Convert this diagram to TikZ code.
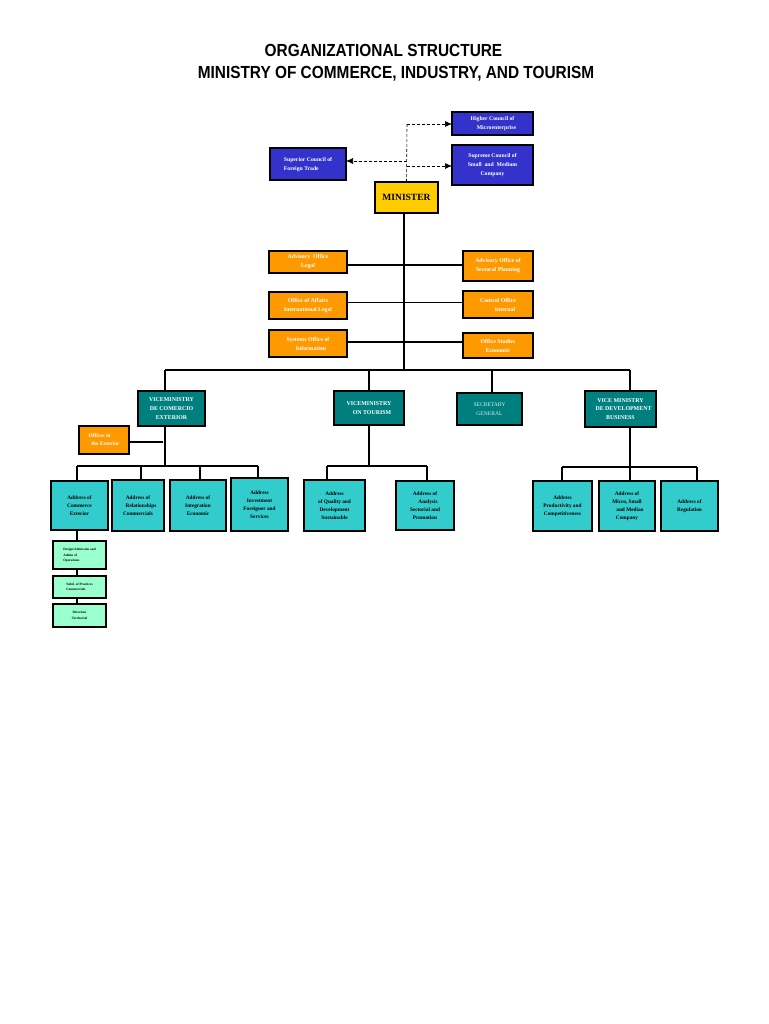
\documentclass[tikz,border=0pt]{standalone}
\usepackage{fontspec}
\usepackage{graphicx}
\setmainfont{Liberation Serif}
\newfontfamily\titlefont{Liberation Sans}
\usetikzlibrary{arrows.meta}
\definecolor{cblue}{HTML}{3333CC}
\definecolor{corange}{HTML}{FF9900}
\definecolor{cyellow}{HTML}{FFCC00}
\definecolor{cteal}{HTML}{007F7F}
\definecolor{ccyan}{HTML}{33CCCC}
\definecolor{cgreen}{HTML}{99FFCC}
\tikzset{
  bx/.style={draw=black, line width=1.4pt, inner sep=0pt, outer sep=0pt, align=center,
    font=\fontsize{5.8}{9}\selectfont\bfseries},
  bluebox/.style={bx, fill=cblue, text=white, font=\fontsize{5.7}{9}\selectfont\bfseries},
  orbox/.style={bx, fill=corange, text=white},
  tealbox/.style={bx, fill=cteal, text=white, font=\fontsize{5.9}{8.8}\selectfont\bfseries},
  cyanbox/.style={bx, fill=ccyan, text=black, font=\fontsize{5.3}{8}\selectfont\bfseries},
  grbox/.style={bx, fill=cgreen, text=black, font=\fontsize{3.4}{5.5}\selectfont\bfseries},
  minbox/.style={bx, fill=cyellow, text=black, line width=1.8pt, font=\fontsize{9.5}{11}\selectfont\bfseries},
  tree/.style={draw=black, line width=1.1pt},
  dasharrow/.style={draw=black, line width=0.6pt, densely dashed, -{Latex[length=7pt,width=6pt]}},
  dashline/.style={draw=black, line width=0.6pt, densely dashed},
  ttl/.style={font=\titlefont\fontsize{17.5}{20}\selectfont\bfseries}
}
\begin{document}
\begin{tikzpicture}[x=1pt,y=-1pt]
\useasboundingbox (0,0) rectangle (768,1024);
% title
\node[ttl] (t1) at (383.5,50) {\scalebox{0.88}[1]{ORGANIZATIONAL STRUCTURE}};
\node[ttl] (t2) at (396,74) {\scalebox{0.88}[1]{MINISTRY OF COMMERCE, INDUSTRY, AND TOURISM}};
% councils
\node[bluebox, minimum width=81pt, minimum height=23pt] (hcm) at (492.5,123.5) {Higher Council of\\\hspace*{8pt}Microenterprise};
\node[bluebox, minimum width=81pt, minimum height=40pt] (scm) at (492.5,165) {Supreme Council of\\Small\ \ and\ \ Medium\\Company};
\node[bluebox, minimum width=76pt, minimum height=32pt] (sft) at (308,164) {\begin{tabular}{@{}l@{}}Superior Council of\\Foreign Trade\end{tabular}};
\node[minbox, minimum width=63pt, minimum height=31pt] (min) at (406.5,197.5) {MINISTER};
\coordinate (dtop) at (407,124);
\draw[dashline] (min.north) -- (dtop);
\draw[dasharrow] (dtop) -- (hcm.west |- dtop);
\draw[dasharrow] (407,166) -- (scm.west |- 0,166);
\draw[dasharrow] (407,161) -- (sft.east |- 0,161);
% offices
\node[orbox, minimum width=78pt, minimum height=22pt] (aol) at (308,262) {Advisory\ \ Office\\Legal};
\node[orbox, minimum width=70pt, minimum height=30pt] (aosp) at (498,266) {Advisory Office of\\Sectoral Planning};
\node[orbox, minimum width=78pt, minimum height=27pt] (oail) at (308,305.5) {Office of Affairs\\International Legal};
\node[orbox, minimum width=70pt, minimum height=27pt] (coi) at (498,304.5) {Control Office\\\hspace*{14pt}Internal};
\node[orbox, minimum width=78pt, minimum height=27pt] (soi) at (308,343.5) {Systems Office of\\\hspace*{6pt}Information};
\node[orbox, minimum width=70pt, minimum height=25pt] (ose) at (498,345.5) {Office Studies\\Economic};
\draw[line width=2pt] (aol.east |- 0,265) -- (aosp.west |- 0,265);
\draw[line width=0.8pt] (oail.east |- 0,302) -- (coi.west |- 0,302);
\draw[line width=2pt] (soi.east |- 0,342) -- (ose.west |- 0,342);
% main trunk and bus
\coordinate (bus) at (404,370);
\draw[tree] (min.south -| bus) -- (bus);
\node[tealbox, minimum width=67pt, minimum height=35pt] (vmce) at (171.5,408.5) {VICEMINISTRY\\DE COMERCIO\\EXTERIOR};
\node[tealbox, minimum width=70pt, minimum height=34pt] (vmt) at (369,408) {VICEMINISTRY\\\hspace*{6pt}ON TOURISM};
\node[tealbox, minimum width=65pt, minimum height=32pt, font=\fontsize{5.6}{8.8}\selectfont, text=white!85!cteal] (sg) at (489.5,409) {SECRETARY\\GENERAL};
\node[tealbox, minimum width=71pt, minimum height=36pt] (vmd) at (620.5,409) {VICE MINISTRY\\\hspace*{6pt}DE DEVELOPMENT\\BUSINESS};
\draw[tree] (165,370) -- (630,370);
\draw[tree] (165,370) -- (vmce.north -| 165,0);
\draw[tree] (369,370) -- (vmt.north);
\draw[tree] (492,370) -- (sg.north -| 492,0);
\draw[tree] (630,370) -- (vmd.north -| 630,0);
% offices exterior
\node[orbox, minimum width=50pt, minimum height=28pt, font=\fontsize{5.4}{8.5}\selectfont\bfseries] (oe) at (104,440) {\begin{tabular}{@{}l@{}}Offices in\\\ \ the Exterior\end{tabular}};
\draw[line width=1.6pt] (oe.east |- 0,442) -- (163,442);
% comercio exterior subtree
\draw[tree] (vmce.south -| 165,0) -- (165,466);
\draw[tree] (77,466) -- (258,466);
\node[cyanbox, minimum width=57pt, minimum height=49pt] (ace) at (79.5,505.5) {Address of\\Commerce\\Exterior};
\node[cyanbox, minimum width=52pt, minimum height=51pt] (arc) at (138,505.5) {Address of\\\hspace*{6pt}Relationships\\Commercials};
\node[cyanbox, minimum width=56pt, minimum height=51pt] (aie) at (198,505.5) {Address of\\Integration\\Economic};
\node[cyanbox, minimum width=57pt, minimum height=53pt] (aifs) at (259.5,504.5) {Address\\Investment\\Foreigner and\\Services};
\draw[tree] (77,466) -- (ace.north -| 77,0);
\draw[tree] (141,466) -- (arc.north -| 141,0);
\draw[tree] (200,466) -- (aie.north -| 200,0);
\draw[tree] (258,466) -- (aifs.north -| 258,0);
% tourism subtree
\draw[tree] (vmt.south) -- (369,466);
\draw[tree] (327,466) -- (427,466);
\node[cyanbox, minimum width=61pt, minimum height=51pt] (aqds) at (334.5,505.5) {Address\\of Quality and\\Development\\Sustainable};
\node[cyanbox, minimum width=58pt, minimum height=49pt] (aasp) at (425,505.5) {Address of\\\hspace*{6pt}Analysis\\Sectorial and\\Promotion};
\draw[tree] (327,466) -- (aqds.north -| 327,0);
\draw[tree] (427,466) -- (aasp.north -| 427,0);
% development subtree
\draw[tree] (vmd.south -| 630,0) -- (630,467);
\draw[tree] (562,467) -- (697,467);
\node[cyanbox, minimum width=59pt, minimum height=50pt] (apc) at (562.5,506) {Address\\Productivity and\\Competitiveness};
\node[cyanbox, minimum width=56pt, minimum height=50pt] (amsm) at (627,506) {Address of\\Micro, Small\\\hspace*{6pt}and Median\\Company};
\node[cyanbox, minimum width=57pt, minimum height=50pt] (ar) at (689.5,506) {Address of\\Regulation};
\draw[tree] (562,467) -- (apc.north -| 562,0);
\draw[tree] (630,467) -- (amsm.north -| 630,0);
\draw[tree] (697,467) -- (ar.north -| 697,0);
% green subboxes
\node[grbox, minimum width=53pt, minimum height=28pt] (g1) at (79.5,555) {\begin{tabular}{@{}l@{}}Design/Admission and\\Admin of\\Operations\end{tabular}};
\node[grbox, minimum width=53pt, minimum height=22pt] (g2) at (79.5,587) {\begin{tabular}{@{}l@{}}Subd. of Practices\\Commercials\end{tabular}};
\node[grbox, minimum width=53pt, minimum height=23pt] (g3) at (79.5,615.5) {Direction\\Territorial};
\draw[tree] (ace.south -| 77,0) -- (g1.north -| 77,0);
\draw[tree] (g1.south -| 77,0) -- (g2.north -| 77,0);
\draw[tree] (g2.south -| 77,0) -- (g3.north -| 77,0);
\end{tikzpicture}
\end{document}
